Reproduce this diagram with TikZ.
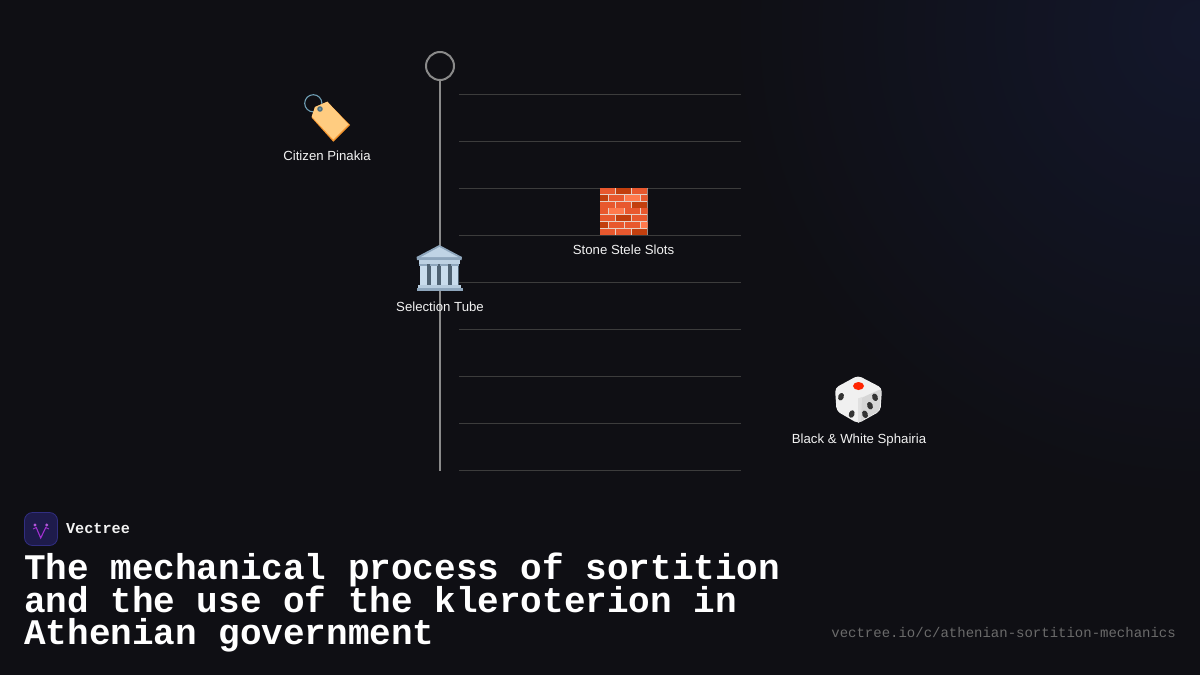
\documentclass[tikz,border=0pt]{standalone}
\usepackage{fontspec}
\setmainfont{Liberation Sans}
\newfontfamily\codefont{Liberation Mono}
\usetikzlibrary{positioning,calc}
\definecolor{pagebg}{HTML}{0F0F14}
\definecolor{pageglow}{HTML}{13172B}
\definecolor{tubegray}{HTML}{8A8A8A}
\definecolor{slotgray}{HTML}{3C3C3C}
\definecolor{labelwhite}{HTML}{F2F2F2}
\definecolor{urlgray}{HTML}{6B6B6B}
\definecolor{tagbody}{HTML}{FFCC80}
\definecolor{tagedge}{HTML}{F5952F}
\definecolor{tagring}{HTML}{6F9FB5}
\definecolor{hallpale}{HTML}{C9DCEC}
\definecolor{hallmid}{HTML}{8EA6BC}
\definecolor{halldark}{HTML}{4F6272}
\definecolor{brickmid}{HTML}{E8582E}
\definecolor{brickdeep}{HTML}{C23F0E}
\definecolor{bricklight}{HTML}{FF7A4D}
\definecolor{brickjoint}{HTML}{E6CFC4}
\definecolor{logobg}{HTML}{1E1B4B}
\definecolor{logoedge}{HTML}{312E81}
\definecolor{logomark}{HTML}{A02FD0}

\begin{document}
\begin{tikzpicture}[
    x=1pt, y=-1pt,
    itemlabel/.style={
      font=\fontsize{13.2}{15}\selectfont, text=labelwhite, inner sep=0pt, anchor=base,
    },
    titleline/.style={
      font=\codefont\bfseries\fontsize{36}{36}\selectfont, text=white, inner sep=0pt, anchor=base west,
    },
    slotline/.style={draw=slotgray, line width=1pt},
    tubeline/.style={draw=tubegray, line width=2pt},
    pip/.style={fill=black!80},
  ]

  % =================== Background ===================
  \useasboundingbox (0,0) rectangle (1200,675);
  \fill[pagebg] (0,0) rectangle (1200,675);
  \begin{scope}
    \clip (0,0) rectangle (1200,675);
    \shade[inner color=pageglow, outer color=pagebg] (1200,30) circle (470);
  \end{scope}

  % =================== Slots ===================
  \foreach \i/\yy in {1/94,2/141,3/188,4/235,5/282,6/329,7/376,8/423,9/470} {
    \coordinate (slot\i a) at (459,\yy);
    \coordinate (slot\i b) at (741,\yy);
    \draw[slotline] (slot\i a) -- (slot\i b);
  }

  % =================== Tube ===================
  \node[circle, tubeline, minimum size=28pt, inner sep=0pt] (tubetop) at (440,66) {};
  \coordinate (tubeend) at (440,471);
  \draw[tubeline] (tubetop.south) -- (tubeend);

  % =================== Citizen Pinakia (tag) ===================
  \draw[tagring, line width=1.1pt] (313.3,103.3) circle (8.6);
  \fill[tagedge] (311.7,117.7) -- (315,107) -- (327.3,101.7) -- (350,125)
    -- (333.3,141.7) -- cycle;
  \fill[tagbody] (311.7,116.5) -- (315,107) -- (327.3,101.7) -- (348.5,124.5)
    -- (333.3,139.5) -- cycle;
  \fill[tagring!70!black] (320,109) circle (2.8);
  \fill[tagring] (320,109) circle (1.2);
  \node[itemlabel] (pinakia) at (327,160) {Citizen Pinakia};

  % =================== Stone Stele Slots (bricks) ===================
  \begin{scope}
    \clip (600,188) rectangle (647.5,235);
    \fill[brickjoint] (600,188) rectangle (648,235);
    \foreach \r/\off/\tones in {
        0/0/{brickmid,brickdeep,brickmid,brickmid},
        1/-7.5/{brickdeep,brickmid,bricklight,brickmid},
        2/0/{brickmid,brickmid,brickdeep,brickmid},
        3/-7.5/{brickmid,bricklight,brickmid,brickmid},
        4/0/{brickmid,brickdeep,brickmid,brickmid},
        5/-7.5/{brickdeep,brickmid,brickmid,bricklight},
        6/0/{brickmid,brickmid,brickdeep,brickdeep}} {
      \foreach \c [count=\n from 0] in \tones {
        \fill[\c] ({600+\off+\n*16},{188+\r*6.8}) rectangle ++(15.2,6);
      }
    }
  \end{scope}
  \node[itemlabel] (stele) at (623.5,254) {Stone Stele Slots};

  % =================== Selection Tube (hall) ===================
  \fill[pagebg] (438,246) rectangle (442,291);
  \fill[hallmid] (439.3,245) -- (462,257) -- (461.5,260) -- (417,260) -- (416.5,257) -- cycle;
  \fill[hallpale!85!hallmid] (439.3,247) -- (458,257) -- (421,257) -- cycle;
  \fill[halldark] (420,260) rectangle (459,285);
  \fill[hallpale!80!hallmid] (419,260) rectangle (460,264);
  \foreach \cx in {423.3,434,444.3,455} {
    \fill[hallpale] (\cx-3.4,265.5) rectangle (\cx+3.4,285);
    \fill[hallmid] (\cx-4,264) rectangle (\cx+4,266);
  }
  \fill[hallpale!70!hallmid] (418,285) rectangle (461,287.5);
  \fill[hallmid] (416.5,287.5) rectangle (462.5,291);
  \node[itemlabel] (tube) at (440,311) {Selection Tube};

  % =================== Black & White Sphairia (die) ===================
  \fill[white!94!black, rounded corners=4pt] (858,375.5) -- (882,388) -- (880.5,411) -- (858,423.5)
    -- (836.5,411) -- (835,388) -- cycle;
  \fill[white!84!black, rounded corners=2pt] (881,389) -- (859,399) -- (858,423) -- (879.5,410.5) -- cycle;
  \fill[white!88!black] (858,398.5) -- (858,423) -- (861,421) -- (862,397) -- cycle;
  \fill[red!72!orange] (858.5,386) ellipse (5.5 and 4);
  \fill[pip, rotate around={-20:(841,396.7)}] (841,396.7) ellipse (2.8 and 3.9);
  \fill[pip, rotate around={-20:(851.7,414)}] (851.7,414) ellipse (2.8 and 3.9);
  \fill[pip, rotate around={20:(875,397.3)}] (875,397.3) ellipse (2.8 and 3.9);
  \fill[pip, rotate around={20:(870,405.7)}] (870,405.7) ellipse (2.8 and 3.9);
  \fill[pip, rotate around={20:(865,414.3)}] (865,414.3) ellipse (2.8 and 3.9);
  \node[itemlabel] (sphairia) at (859,443) {Black \& White Sphairia};

  % =================== Brand ===================
  \node[draw=logoedge, fill=logobg, rounded corners=8pt, line width=.8pt, minimum size=33pt, inner sep=0pt]
    (logo) at (41,529) {};
  \draw[logomark, line width=1.1pt] (36,527) -- (40.7,538) -- (46,527);
  \draw[logomark, line width=.9pt] (33,529) -- (36.5,527.5) (49,529) -- (45.5,527.5);
  \fill[logomark!80!white] (35,525) circle (1.6) (46.7,525) circle (1.6);
  \node[right=8pt of logo, inner sep=0pt, yshift=.5pt, font=\codefont\bfseries\fontsize{15.2}{18}\selectfont, text=labelwhite]
    (brand) {Vectree};

  % =================== Title and link ===================
  \node[titleline] (title1) at (24,579.6) {The mechanical process of sortition};
  \node[titleline] (title2) at (24,612) {and the use of the kleroterion in};
  \node[titleline] (title3) at (24,644.4) {Athenian government};
  \node[anchor=base east, inner sep=0pt, text=urlgray,
        font=\codefont\fontsize{14}{16}\selectfont] (link) at (1176,637)
    {vectree.io/c/athenian-sortition-mechanics};

\end{tikzpicture}
\end{document}
